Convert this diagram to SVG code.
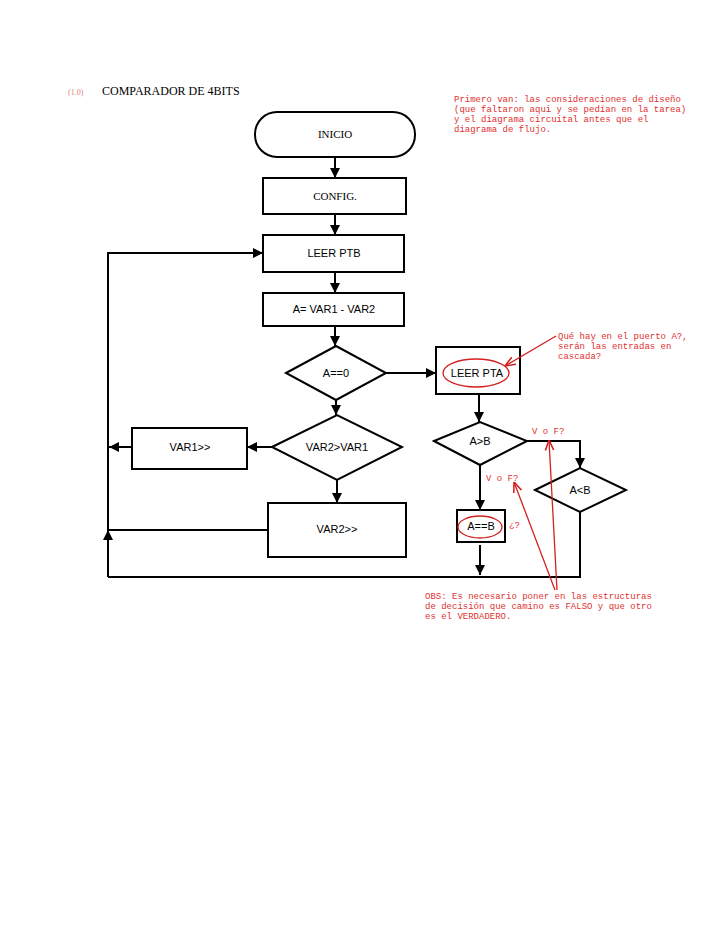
<svg xmlns="http://www.w3.org/2000/svg" width="728" height="942" viewBox="0 0 728 942">
<style>
.s{fill:#fff;stroke:#000;stroke-width:2}
.t{font-family:"Liberation Sans",Arial,sans-serif;font-size:11px;text-anchor:middle}
.sf{font-family:"Liberation Serif",serif;font-size:11px;text-anchor:middle}
.c{fill:none;stroke:#000;stroke-width:2}
.r{font-family:"Liberation Mono",monospace;font-size:9px;fill:#e03030}
.rl{fill:none;stroke:#d42020;stroke-width:1.3}
</style>
<defs>
<marker id="a" viewBox="0 0 10 10" refX="10" refY="5" markerWidth="5" markerHeight="5" orient="auto"><path d="M0,0L10,5L0,10z" fill="#000"/></marker>
<marker id="ra" viewBox="0 0 10 10" refX="10" refY="5" markerWidth="8" markerHeight="8" orient="auto"><path d="M0,1L10,5L0,9" fill="none" stroke="#d42020" stroke-width="1.5"/></marker>
</defs>
<rect width="728" height="942" fill="#fff"/>
<text x="68" y="95" font-family="Liberation Serif,serif" font-size="8" fill="#e08080">(1.0)</text>
<text x="102" y="95" font-family="Liberation Serif,serif" font-size="12">COMPARADOR DE 4BITS</text>
<g id="connectors">
<line class="c" x1="335" y1="157" x2="335" y2="178" marker-end="url(#a)"/>
<line class="c" x1="335" y1="214" x2="335" y2="235" marker-end="url(#a)"/>
<line class="c" x1="335" y1="272" x2="335" y2="293" marker-end="url(#a)"/>
<line class="c" x1="335" y1="326" x2="335" y2="346" marker-end="url(#a)"/>
<line class="c" x1="336" y1="400" x2="336" y2="415" marker-end="url(#a)"/>
<line class="c" x1="337" y1="480" x2="337" y2="503" marker-end="url(#a)"/>
<line class="c" x1="272" y1="447" x2="247" y2="447" marker-end="url(#a)"/>
<line class="c" x1="132" y1="447" x2="109" y2="447" marker-end="url(#a)"/>
<polyline class="c" points="108,577 108,253 263,253" marker-end="url(#a)"/>
<line class="c" x1="268" y1="530" x2="108" y2="530"/>
<line class="c" x1="108" y1="545" x2="108" y2="530" marker-end="url(#a)"/>
<line class="c" x1="386" y1="373" x2="436" y2="373" marker-end="url(#a)"/>
<line class="c" x1="479" y1="394" x2="479" y2="422" marker-end="url(#a)"/>
<polyline class="c" points="527,441 580,441 580,468" marker-end="url(#a)"/>
<polyline class="c" points="580,512 580,577 108,577"/>
<line class="c" x1="480" y1="465" x2="480" y2="510" marker-end="url(#a)"/>
<line class="c" x1="480" y1="545" x2="480" y2="575" marker-end="url(#a)"/>
</g>
<g id="inicio"><rect class="s" x="255" y="112" width="160" height="45" rx="22"/><text class="sf" x="335" y="138">INICIO</text></g>
<g id="config"><rect class="s" x="263" y="178" width="143" height="36"/><text class="sf" x="335" y="200">CONFIG.</text></g>
<g id="leerptb"><rect class="s" x="263" y="235" width="141" height="37"/><text class="t" x="334" y="257">LEER PTB</text></g>
<g id="resta"><rect class="s" x="263" y="293" width="141" height="33"/><text class="t" x="334" y="313">A= VAR1 - VAR2</text></g>
<g id="a0"><polygon class="s" points="286,373 336,346 386,373 336,400"/><text class="t" x="336" y="377">A==0</text></g>
<g id="cmp"><polygon class="s" points="272,447 337,415 402,447 337,480"/><text class="t" x="337" y="451">VAR2&gt;VAR1</text></g>
<g id="var1"><rect class="s" x="132" y="428" width="115" height="41"/><text class="t" x="190" y="451">VAR1&gt;&gt;</text></g>
<g id="var2"><rect class="s" x="268" y="503" width="138" height="54"/><text class="t" x="337" y="533">VAR2&gt;&gt;</text></g>
<g id="leerpta"><rect class="s" x="436" y="347" width="84" height="47"/><text class="t" x="477" y="377">LEER PTA</text></g>
<g id="agb"><polygon class="s" points="434,441 480,422 527,441 480,465"/><text class="t" x="480" y="445">A&gt;B</text></g>
<g id="alb"><polygon class="s" points="535,490 580,468 626,490 580,512"/><text class="t" x="580" y="494">A&lt;B</text></g>
<g id="aeqb"><rect class="s" x="457" y="510" width="48" height="32"/><text class="t" x="481" y="530">A==B</text></g>
<g id="notes">
<ellipse class="rl" cx="476" cy="373" rx="33" ry="14"/>
<ellipse class="rl" cx="480" cy="527" rx="22" ry="11"/>
<line class="rl" x1="556" y1="336" x2="505" y2="366" marker-end="url(#ra)"/>
<line class="rl" x1="555" y1="590" x2="514" y2="482" marker-end="url(#ra)"/>
<line class="rl" x1="557" y1="590" x2="549" y2="440" marker-end="url(#ra)"/>
<text class="r" x="454" y="102">Primero van: las consideraciones de diseño</text>
<text class="r" x="454" y="112">(que faltaron aqui y se pedían en la tarea)</text>
<text class="r" x="454" y="122">y el diagrama circuital antes que el</text>
<text class="r" x="454" y="132">diagrama de flujo.</text>
<text class="r" x="558" y="339">Qué hay en el puerto A?,</text>
<text class="r" x="558" y="349">serán las entradas en</text>
<text class="r" x="558" y="359">cascada?</text>
<text class="r" x="532" y="434">V o F?</text>
<text class="r" x="486" y="481">V o F?</text>
<text class="r" x="509" y="528">¿?</text>
<text class="r" x="425" y="599">OBS: Es necesario poner en las estructuras</text>
<text class="r" x="425" y="609">de decisión que camino es FALSO y que otro</text>
<text class="r" x="425" y="619">es el VERDADERO.</text>
</g>
</svg>
